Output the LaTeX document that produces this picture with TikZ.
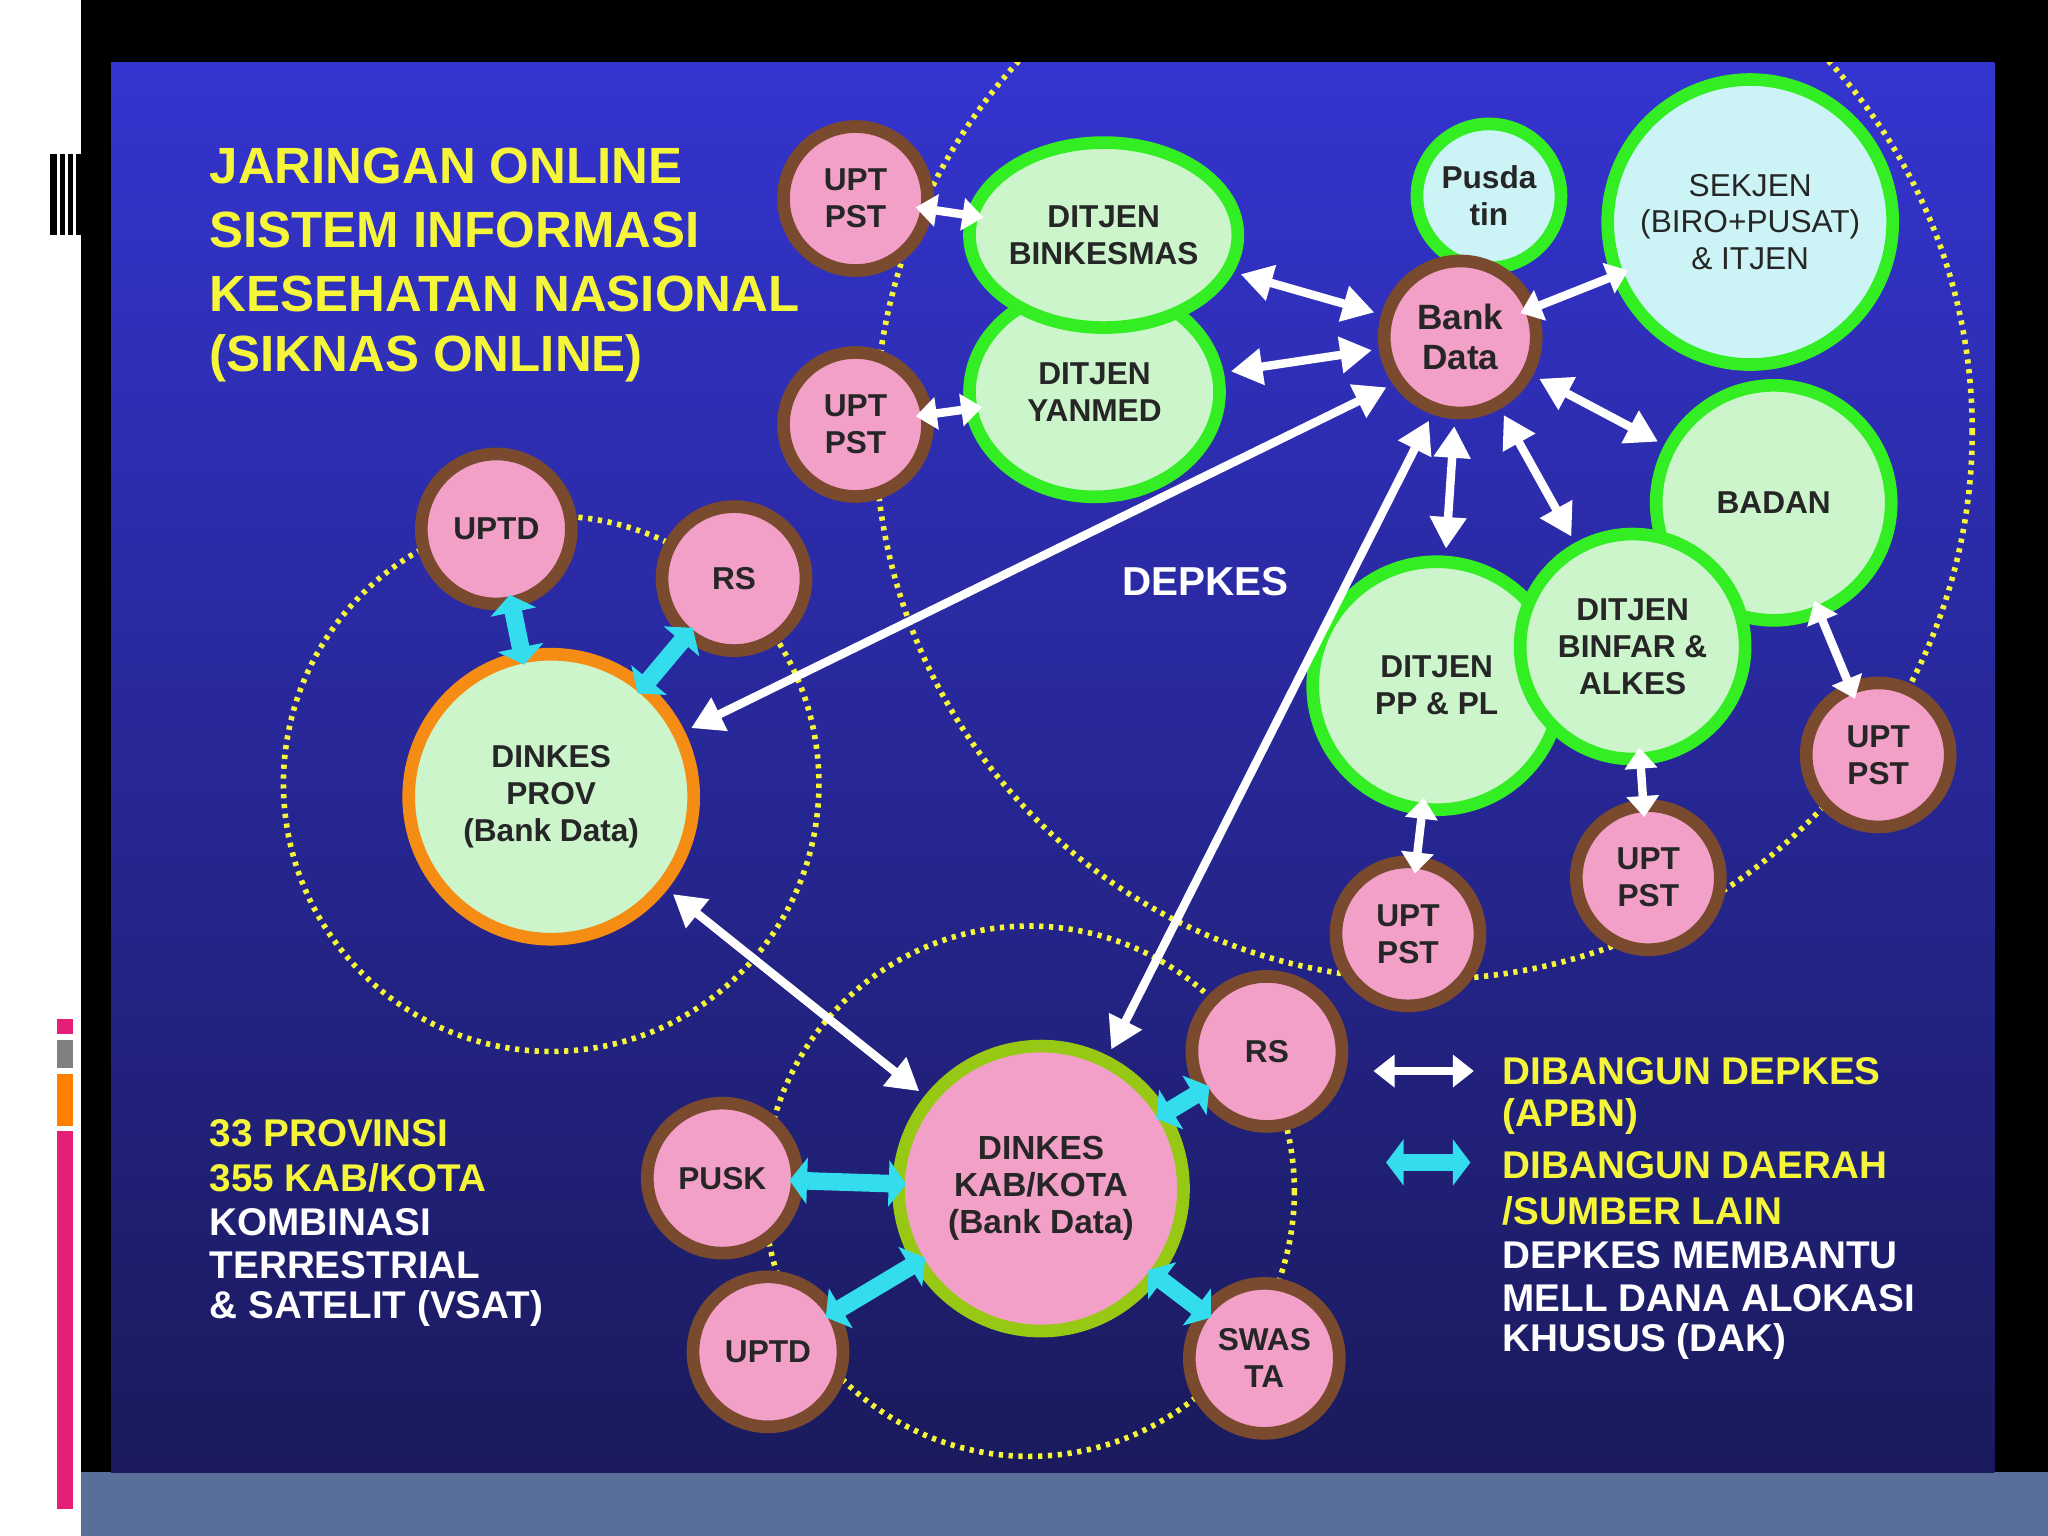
\documentclass[tikz,border=0pt]{standalone}
\usepackage{fontspec}
\setmainfont{Liberation Sans}
\usetikzlibrary{arrows.meta,shapes.geometric}
\definecolor{pk}{HTML}{F3A0C8}
\definecolor{br}{HTML}{7A4A2E}
\definecolor{lg}{HTML}{CCF5CC}
\definecolor{gb}{HTML}{33EE22}
\definecolor{sk}{HTML}{CCF3F5}
\definecolor{yl}{HTML}{F5F53A}
\definecolor{cy}{HTML}{33DDEE}
\definecolor{top}{HTML}{3434D0}
\definecolor{bot}{HTML}{1A1A5C}
\definecolor{strip}{HTML}{5A6E9A}
\definecolor{mag}{HTML}{E61E78}
\definecolor{orb}{HTML}{F58C14}
\definecolor{ygb}{HTML}{96C814}
\begin{document}
\begin{tikzpicture}[x=0.01306cm,y=-0.01306cm,
 font=\bfseries,
 upt/.style={circle,fill=pk,draw=br,line width=3.6pt,text=black!85,align=center,inner sep=0pt,font=\fontsize{9}{10.5}\bfseries\selectfont},
 grn/.style={circle,fill=lg,draw=gb,line width=3.6pt,text=black!85,align=center,inner sep=0pt,font=\fontsize{9}{10.5}\bfseries\selectfont},
 dot/.style={yl,line width=1.6pt,dash pattern=on 1.2pt off 1.6pt},
 wa/.style={white,line width=2.4pt,{Triangle[width=10pt,length=9pt]}-{Triangle[width=10pt,length=9pt]},shorten <=2pt,shorten >=2pt},
 sa/.style={white,line width=2.4pt,{Triangle[width=9pt,length=6pt]}-{Triangle[width=9pt,length=6pt]},shorten <=-5pt,shorten >=-5pt},
 ca/.style={cy,line width=5pt,{Triangle[width=13pt,length=5pt]}-{Triangle[width=13pt,length=5pt]},shorten <=-4pt,shorten >=-4pt},
 ttl/.style={anchor=west,inner sep=0pt,yl,font=\fontsize{14.5}{17}\bfseries\selectfont},
 lgd/.style={anchor=west,inner sep=0pt,font=\fontsize{11}{13}\bfseries\selectfont}]
\useasboundingbox (0,0) rectangle (1568,1176);
\fill[black] (0,0) rectangle (1568,1176);
\fill[white] (0,0) rectangle (62,1176);
\fill[strip] (62,1127) rectangle (1568,1176);
\fill[black] (38,118) rectangle (62,180);
\fill[white] (44,118) rectangle (46,180);\fill[white] (50,118) rectangle (52,180);\fill[white] (56,118) rectangle (58,180);
\fill[mag] (44,780) rectangle (56,792);
\fill[gray] (44,796) rectangle (56,818);
\fill[orange] (44,822) rectangle (56,862);
\fill[mag] (44,866) rectangle (56,1155);
\shade[top color=top,bottom color=bot] (85,48) rectangle (1527,1127);
\begin{scope}
\clip (85,48) rectangle (1527,1127);
\draw[dot] (1090,330) circle (420);
\end{scope}
\draw[dot] (422,600) circle (205);
\draw[dot] (788,912) circle (203);
% nodes
\node[upt,minimum size=1.44cm] (u1) at (655,152) {UPT\\PST};
\node[upt,minimum size=1.44cm] (u2) at (655,325) {UPT\\PST};
\node[grn,ellipse,minimum width=2.5cm,minimum height=2.1cm] (yan) at (838,300) {DITJEN\\YANMED};
\node[grn,ellipse,minimum width=2.55cm,minimum height=1.85cm] (bin) at (845,180) {DITJEN\\BINKESMAS};
\node[grn,minimum size=1.44cm,fill=sk] (pus) at (1140,150) {Pusda\\tin};
\node[grn,minimum size=2.85cm,fill=sk,font=\fontsize{9}{10.5}\selectfont] (sek) at (1340,170) {SEKJEN\\(BIRO+PUSAT)\\\& ITJEN};
\node[upt,minimum size=1.52cm,font=\fontsize{10}{11.5}\bfseries\selectfont] (bank) at (1118,258) {Bank\\Data};
\node[grn,minimum size=2.48cm] (pp) at (1100,525) {DITJEN\\PP \& PL};
\node[grn,minimum size=2.35cm] (bad) at (1358,385) {BADAN};
\node[grn,minimum size=2.25cm] (binf) at (1250,495) {DITJEN\\BINFAR \&\\ALKES};
\node[upt,minimum size=1.44cm] (u3) at (1438,578) {UPT\\PST};
\node[upt,minimum size=1.44cm] (u4) at (1262,672) {UPT\\PST};
\node[upt,minimum size=1.44cm] (u5) at (1078,715) {UPT\\PST};
\node[font=\fontsize{11.5}{13}\bfseries\selectfont,white] (dep) at (923,445) {DEPKES};
\node[upt,minimum size=1.5cm] (pu) at (380,405) {UPTD};
\node[upt,minimum size=1.44cm] (pr) at (562,443) {RS};
\node[grn,draw=orb,minimum size=2.85cm] (prov) at (422,610) {DINKES\\PROV\\(Bank Data)};
\node[upt,draw=ygb,minimum size=2.85cm,font=\fontsize{9.5}{10.5}\bfseries\selectfont] (kab) at (797,910) {DINKES\\KAB/KOTA\\(Bank Data)};
\node[upt,minimum size=1.5cm] (kr) at (970,805) {RS};
\node[upt,minimum size=1.5cm] (kp) at (553,902) {PUSK};
\node[upt,minimum size=1.5cm] (ku) at (588,1035) {UPTD};
\node[upt,minimum size=1.5cm] (ks) at (968,1040) {SWAS\\TA};
% arrows
\draw[sa] (u1) -- (bin);
\draw[sa] (u2) -- (yan);
\draw[wa] (bin) -- (bank);
\draw[wa] (yan) -- (bank);
\draw[sa] (bank) -- (sek);
\draw[wa] (bank) -- (bad);
\draw[wa] (bank) -- (binf);
\draw[wa] (bank) -- (pp);
\draw[wa] (bank.215) -- (prov);
\draw[wa] (bank.250) -- (kab);
\draw[wa] (prov) -- (kab);
\draw[sa] (bad) -- (u3);
\draw[sa] (binf) -- (u4);
\draw[sa] (pp) -- (u5);
\draw[ca] (pu) -- (prov);
\draw[ca] (pr) -- (prov);
\draw[ca] (kr) -- (kab);
\draw[ca] (kp) -- (kab);
\draw[ca] (ku) -- (kab);
\draw[ca] (ks) -- (kab);
% legend
\coordinate (la) at (1065,820); \coordinate (lb) at (1115,820);
\coordinate (lc) at (1072,890); \coordinate (ld) at (1115,890);
\draw[sa] (la) -- (lb);
\draw[ca] (lc) -- (ld);
\node[ttl] (t1) at (160,127) {JARINGAN ONLINE};
\node[ttl] (t2) at (160,176) {SISTEM INFORMASI};
\node[ttl] (t3) at (160,225) {KESEHATAN NASIONAL};
\node[ttl] (t4) at (160,274) {(SIKNAS ONLINE)};
\node[lgd,yl] (l1) at (1150,820) {DIBANGUN DEPKES};
\node[lgd,yl] (l2) at (1150,855) {(APBN)};
\node[lgd,yl] (l3) at (1150,892) {DIBANGUN DAERAH};
\node[lgd,yl] (l4) at (1150,927) {/SUMBER LAIN};
\node[lgd,white] (l5) at (1150,961) {DEPKES MEMBANTU};
\node[lgd,white] (l6) at (1150,994) {MELL DANA ALOKASI};
\node[lgd,white] (l7) at (1150,1027) {KHUSUS (DAK)};
\node[lgd,yl] (b1) at (160,868) {33 PROVINSI};
\node[lgd,yl] (b2) at (160,902) {355 KAB/KOTA};
\node[lgd,white] (b3) at (160,936) {KOMBINASI};
\node[lgd,white] (b4) at (160,969) {TERRESTRIAL};
\node[lgd,white] (b5) at (160,1002) {\& SATELIT (VSAT)};
\end{tikzpicture}
\end{document}
